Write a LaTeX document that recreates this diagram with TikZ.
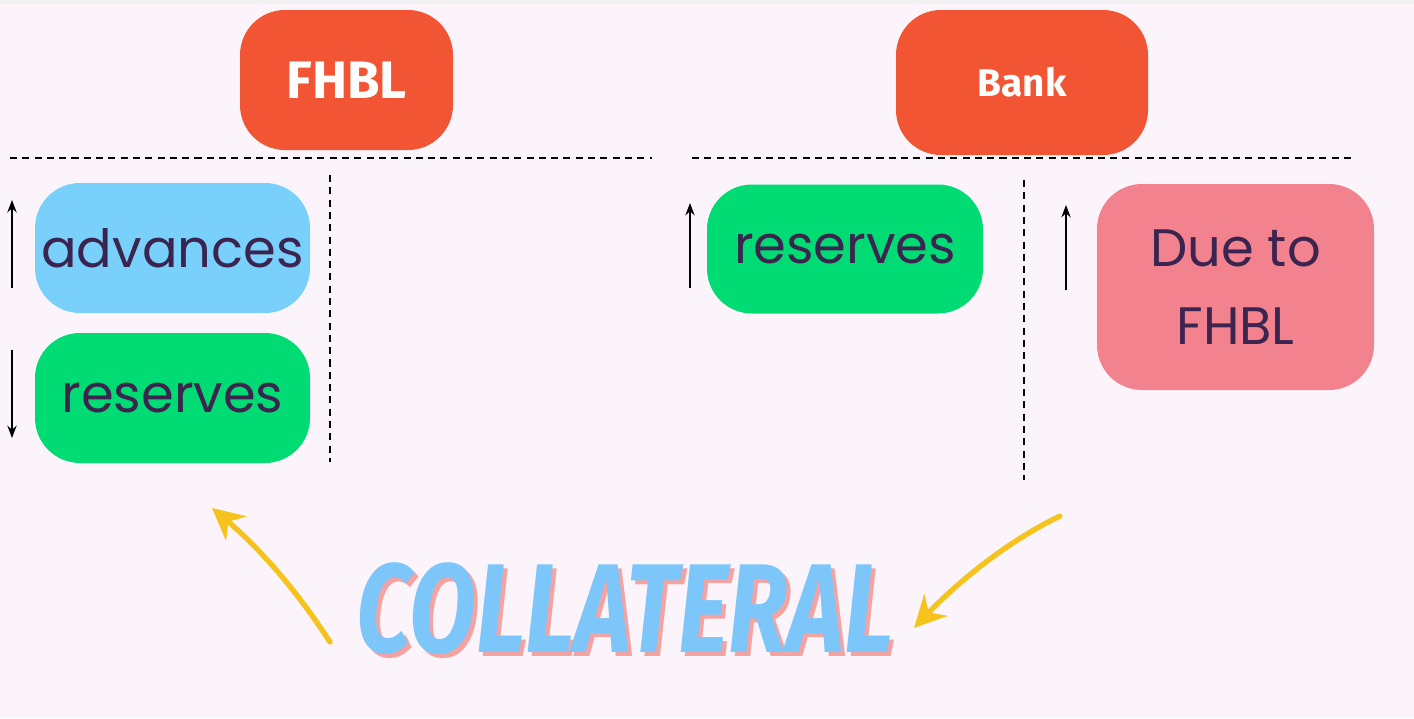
\documentclass[tikz,border=0pt]{standalone}
\usepackage{fontspec}
\setmainfont{Poppins}
\newfontfamily\headfont{Fira Sans}
\usetikzlibrary{positioning,arrows.meta}
\definecolor{bgpink}{HTML}{FBF4FB}
\definecolor{headred}{HTML}{F25533}
\definecolor{skyblue}{HTML}{79D1FB}
\definecolor{mintgreen}{HTML}{00DC73}
\definecolor{rosepink}{HTML}{F2828D}
\definecolor{inkpurple}{HTML}{3B2550}
\definecolor{collblue}{HTML}{7CC6FA}
\definecolor{collshadow}{HTML}{F4A3A3}
\definecolor{penyellow}{HTML}{F6C21C}
\begin{document}
\begin{tikzpicture}[x=0.02cm,y=-0.02cm,
    header/.style={rectangle,rounded corners=0.9cm,fill=headred,text=white,font=\headfont\bfseries\fontsize{30}{36}\selectfont,inner sep=0pt},
    account/.style={rectangle,rounded corners=0.9cm,text=inkpurple,font=\fontsize{30}{44}\selectfont,inner sep=0pt,align=center},
    divider/.style={dashed,line width=1.2pt,dash pattern=on 4pt off 3pt},
    change/.style={-{Stealth[length=7pt]},line width=1.4pt},
    collfont/.style={font=\headfont\bfseries\itshape\fontsize{72}{76}\selectfont,xscale=0.77},
    scribble/.style={penyellow,line width=3pt,line cap=round,-{Stealth[length=18pt,width=18pt]}}
    ]

    \fill[bgpink] (0,0) rectangle (1414,718);
    \fill[black!6] (0,0) rectangle (1414,4);

    % headers
    \node (fhbl) [header,minimum width=213*0.02cm,minimum height=140*0.02cm] at (346.5,80) {FHBL};
    \node (bank) [header,minimum width=252*0.02cm,minimum height=145*0.02cm,font=\headfont\bfseries\fontsize{22}{26}\selectfont] at (1022,82.5) {Bank};

    % T-account lines
    \coordinate (fhblL) at (10,158);
    \coordinate (fhblR) at (652,158);
    \coordinate (bankL) at (692,158);
    \coordinate (bankR) at (1356,158);
    \draw[divider] (fhblL) -- (fhblR);
    \draw[divider] (bankL) -- (bankR);
    \coordinate (fhblT) at (330,175);
    \coordinate (fhblB) at (330,462);
    \coordinate (bankT) at (1024,180);
    \coordinate (bankB) at (1024,480);
    \draw[divider] (fhblT) -- (fhblB);
    \draw[divider] (bankT) -- (bankB);

    % accounts
    \node (advances) [account,fill=skyblue,minimum width=275*0.02cm,minimum height=130*0.02cm] at (172.5,248) {advances};
    \node (resfhbl) [account,fill=mintgreen,minimum width=275*0.02cm,minimum height=130*0.02cm] at (172.5,398) {reserves};
    \node (resbank) [account,fill=mintgreen,minimum width=276*0.02cm,minimum height=129*0.02cm] at (845,249) {reserves};
    \node (due) [account,fill=rosepink,minimum width=277*0.02cm,minimum height=206*0.02cm] at (1235.5,287) {Due to\\FHBL};

    % changes
    \coordinate (up0a) at (12,288);
    \coordinate (up0b) at (12,200);
    \coordinate (dn0a) at (12,350);
    \coordinate (dn0b) at (12,438);
    \coordinate (up1a) at (690,288);
    \coordinate (up1b) at (690,203);
    \coordinate (up2a) at (1066,290);
    \coordinate (up2b) at (1066,205);
    \draw[change] (up0a) -- (up0b);
    \draw[change] (dn0a) -- (dn0b);
    \draw[change] (up1a) -- (up1b);
    \draw[change] (up2a) -- (up2b);

    % collateral
    \node (collshade) [text=collshadow,collfont] at (629,613) {COLLATERAL};
    \node (coll) [text=collblue,collfont] at (625,609) {COLLATERAL};

    \coordinate (penL) at (330,642);
    \coordinate (penR) at (1060,516);
    \draw[scribble] (penL) .. controls (290,580) and (250,540) .. (212,508);
    \draw[scribble] (penR) .. controls (1000,545) and (950,590) .. (914,628);

  \end{tikzpicture}
\end{document}
